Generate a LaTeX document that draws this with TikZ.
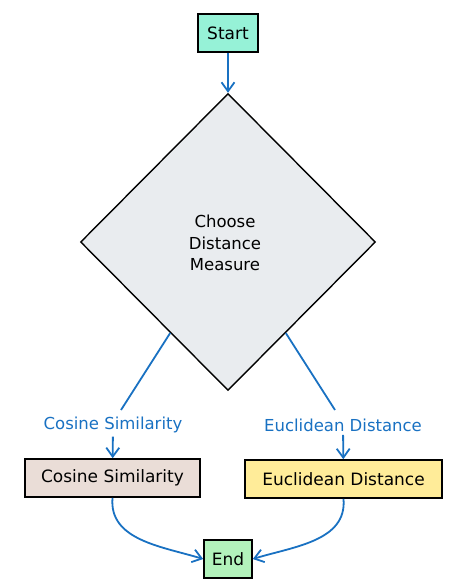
\documentclass[tikz,border=0pt]{standalone}
\usepackage{fontspec}
\setmainfont{DejaVu Sans}
\usetikzlibrary{shapes.geometric}
\usetikzlibrary{arrows.meta}
\usetikzlibrary{calc}
\definecolor{pfeil}{RGB}{25,113,194}
\definecolor{startcol}{RGB}{150,242,215}
\definecolor{endcol}{RGB}{178,242,187}
\definecolor{choosecol}{RGB}{233,236,239}
\definecolor{cosinecol}{RGB}{234,221,215}
\definecolor{euclidcol}{RGB}{255,236,153}

\begin{document}
\begin{tikzpicture}[x=1pt, y=-1pt,
    box/.style={draw=black, line width=1.6pt, minimum height=38pt, inner sep=0pt, font=\fontsize{17}{19}\selectfont},
    pfeillinie/.style={draw=pfeil, line width=1.8pt},
    pfeilspitze/.style={pfeillinie, -{Straight Barb[length=9pt, width=13pt, line width=1.8pt]}},
    wahl/.style={text=pfeil, font=\fontsize{16.5}{19}\selectfont}]
    \useasboundingbox (0,0) rectangle (474,587);

    \node[box, fill=startcol, minimum width=60pt] (start) at (228,33) {Start};

    \node[diamond, draw=black, line width=1.4pt, fill=choosecol, inner sep=0pt,
          minimum width=295pt, minimum height=297pt] (choose) at (228,242) {};
    \node[align=center, font=\fontsize{16.5}{21.5}\selectfont] (choosetext) at (225,243) {Choose\\Distance\\ Measure};
    \draw[pfeilspitze] (start) -- (choose.north);

    \node[wahl] (coslabel) at (113,425) {Cosine Similarity};
    \node[wahl] (euclabel) at (343,425) {Euclidean Distance};
    \draw[pfeillinie] ($(choose.west)!0.61!(choose.south)$) -- (121,410);
    \draw[pfeillinie] ($(choose.east)!0.61!(choose.south)$) -- (335,410);

    \node[box, fill=cosinecol, minimum width=175pt] (cosine) at (112.5,478) {Cosine Similarity};
    \node[box, fill=euclidcol, minimum width=197pt] (euclid) at (343.5,479) {Euclidean Distance};
    \draw[pfeilspitze] (coslabel) -- (cosine);
    \draw[pfeilspitze] (euclabel) -- (euclid);

    \node[box, fill=endcol, minimum width=48pt] (end) at (228,559) {End};
    \draw[pfeilspitze] (cosine.south) to[out=-95, in=163] (end.west);
    \draw[pfeilspitze] (euclid.south) to[out=-85, in=17] (end.east);

\end{tikzpicture}
\end{document}
